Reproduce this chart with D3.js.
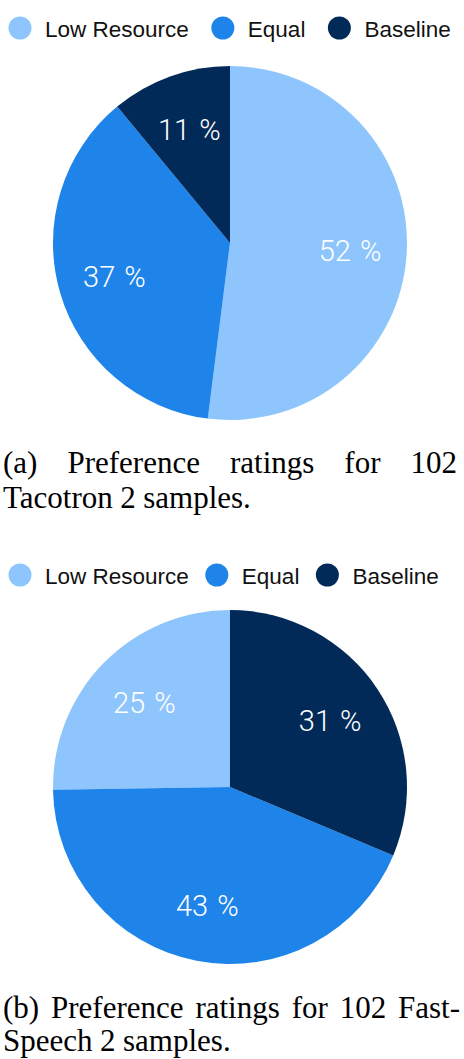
<!DOCTYPE html>
<html>
<head>
<meta charset="utf-8">
<script src="https://cdn.jsdelivr.net/npm/d3@7"></script>
<style>
  body { margin: 0; background: #fff; }
  svg { display: block; }
</style>
</head>
<body>
<svg id="paper"></svg>
<script>
// data
var categories = ['Low Resource', 'Equal', 'Baseline'];
var tacotron = [52, 37, 11];
var fastspeech = [25, 43, 31];
var captionA = [['(a)', 'Preference', 'ratings', 'for', '102'], ['Tacotron', '2', 'samples.']];
var captionB = [['(b)', 'Preference', 'ratings', 'for', '102', 'Fast-'], ['Speech', '2', 'samples.']];

var colors = d3.scaleOrdinal().domain(categories).range(['#8ec5fc', '#1e84ea', '#022a58']);

var W = 464, H = 1059, R = 177;
var svg = d3.select('#paper').attr('width', W).attr('height', H);

function legend(y, gap) {
    var g = svg.append('g').attr('transform', 'translate(0,' + y + ')');
    var x = 9;
    categories.forEach(function(c) {
        g.append('circle').attr('cx', x + 11).attr('cy', 0).attr('r', 11.5)
            .style('fill', colors(c));
        var t = g.append('text').text(c)
            .attr('x', x + 36).attr('y', 8.5)
            .style('font-family', '"Liberation Sans", Arial, sans-serif')
            .style('font-size', '22.5px')
            .style('fill', '#111');
        x = x + 36 + t.node().getComputedTextLength() + gap;
    });
}

function pie(values, cx, cy, clockwise) {
    var layout = d3.pie().sort(null).value(function(d) { return d.v; })
        .startAngle(0).endAngle(clockwise ? 2 * Math.PI : -2 * Math.PI);
    var arcs = layout(categories.map(function(c, i) { return {c: c, v: values[i]}; }));
    var arc = d3.arc().innerRadius(0).outerRadius(R);
    var labelArc = d3.arc().innerRadius(R * 0.68).outerRadius(R * 0.68);
    var g = svg.append('g').attr('transform', 'translate(' + cx + ',' + cy + ')');
    g.selectAll('path').data(arcs).enter().append('path')
        .attr('d', arc)
        .style('fill', function(d) { return colors(d.data.c); });
    g.selectAll('text').data(arcs).enter().append('text')
        .attr('x', function(d) { return labelArc.centroid(d)[0]; })
        .attr('y', function(d) { return labelArc.centroid(d)[1]; })
        .attr('dy', '0.36em')
        .attr('text-anchor', 'middle')
        .style('font-family', 'Roboto, sans-serif')
        .style('font-weight', 300)
        .style('font-size', '29px')
        .style('word-spacing', '2px')
        .style('fill', '#fff')
        .text(function(d) { return d.data.v + ' %'; });
}

// justified caption, last line left aligned
function caption(lines, y0, x0, x1, lead) {
    lines.forEach(function(words, li) {
        var y = y0 + li * lead;
        var nodes = words.map(function(w) {
            return svg.append('text').text(w).attr('y', y)
                .style('font-family', '"Liberation Serif", "Times New Roman", serif')
                .style('font-size', '31px')
                .style('fill', '#000');
        });
        var widths = nodes.map(function(n) { return n.node().getComputedTextLength(); });
        var space = 7.5;
        if (li < lines.length - 1) space = (x1 - x0 - d3.sum(widths)) / (words.length - 1);
        var x = x0;
        nodes.forEach(function(n, i) { n.attr('x', x); x += widths[i] + space; });
    });
}

legend(28, 23);
pie(tacotron, 230, 243, true);
caption(captionA, 473, 3, 457, 35);

legend(575, 17);
pie(fastspeech, 230, 787, false);
caption(captionB, 1018, 3, 460, 33);
</script>
</body>
</html>
